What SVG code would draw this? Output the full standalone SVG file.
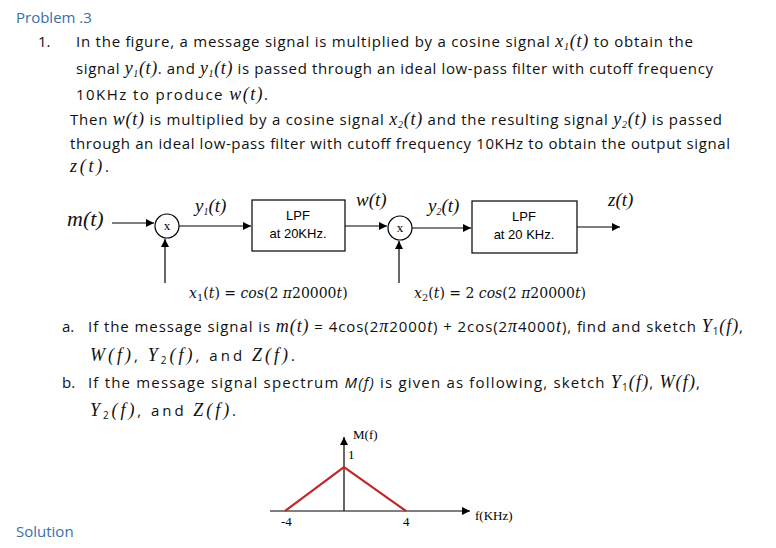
<svg xmlns="http://www.w3.org/2000/svg" width="776" height="548" viewBox="0 0 776 548">
<defs><marker id="ah" markerWidth="8" markerHeight="8" refX="8" refY="4" orient="auto" markerUnits="userSpaceOnUse"><path d="M0,0 L8,4 L0,8 Z" fill="#000"/></marker></defs>
<style>
.t{font-family:"Open Sans","Liberation Sans",sans-serif;font-size:15px;fill:#111}
.m{font-family:"Liberation Serif",serif;font-style:italic;fill:#111}
.sub{font-size:10px}
.big{font-size:18px}
.s{font-family:"Liberation Sans",sans-serif;font-size:13px;fill:#000}
.r{font-family:"Liberation Serif",serif;font-size:13px;fill:#000}
.ln{stroke:#000;stroke-width:1.2;fill:none}
.dl{font-family:"Liberation Serif",serif;font-style:italic;font-size:19px;fill:#111}
.eq{font-family:"DejaVu Serif","Liberation Serif",serif;font-size:14px;fill:#111}
</style>
<rect width="776" height="548" fill="#fff"/>
<text x="16" y="23" class="t" style="fill:#3a6ea5">Problem .3</text>
<text x="38" y="47" class="t">1.</text>
<text x="76" y="47" class="t" textLength="617" lengthAdjust="spacing">In the figure, a message signal is multiplied by a cosine signal <tspan class="m big">x</tspan><tspan class="m sub" dy="3">1</tspan><tspan class="m big" dy="-3">(t)</tspan> to obtain the</text>
<text x="76" y="74" class="t" textLength="637" lengthAdjust="spacing">signal <tspan class="m big">y</tspan><tspan class="m sub" dy="3">1</tspan><tspan class="m big" dy="-3">(t)</tspan>. and <tspan class="m big">y</tspan><tspan class="m sub" dy="3">1</tspan><tspan class="m big" dy="-3">(t)</tspan> is passed through an ideal low-pass filter with cutoff frequency</text>
<text x="76" y="100" class="t" textLength="192" lengthAdjust="spacing">10KHz to produce <tspan class="m big">w(t)</tspan>.</text>
<text x="70" y="125" class="t" textLength="652" lengthAdjust="spacing">Then <tspan class="m big">w(t)</tspan> is multiplied by a cosine signal <tspan class="m big">x</tspan><tspan class="m sub" dy="3">2</tspan><tspan class="m big" dy="-3">(t)</tspan> and the resulting signal <tspan class="m big">y</tspan><tspan class="m sub" dy="3">2</tspan><tspan class="m big" dy="-3">(t)</tspan> is passed</text>
<text x="70" y="149" class="t" textLength="660" lengthAdjust="spacing">through an ideal low-pass filter with cutoff frequency 10KHz to obtain the output signal</text>
<text x="70" y="172" class="t" textLength="39" lengthAdjust="spacing"><tspan class="m big">z(t)</tspan>.</text>

<g id="connectors">
<line x1="112" y1="223" x2="154" y2="223" class="ln" marker-end="url(#ah)"/>
<line x1="179" y1="226" x2="251" y2="226" class="ln" marker-end="url(#ah)"/>
<line x1="345" y1="226" x2="387" y2="226" class="ln" marker-end="url(#ah)"/>
<line x1="412" y1="228" x2="471" y2="228" class="ln" marker-end="url(#ah)"/>
<line x1="577" y1="227" x2="620" y2="227" class="ln" marker-end="url(#ah)"/>
<line x1="165" y1="283" x2="165" y2="239" class="ln" marker-end="url(#ah)"/>
<line x1="399" y1="283" x2="399" y2="241" class="ln" marker-end="url(#ah)"/>
</g>
<g id="mult1"><circle cx="167" cy="226" r="12" class="ln"/><text x="167" y="230" class="r" text-anchor="middle">x</text></g>
<g id="lpf1"><rect x="252" y="200" width="93" height="51" class="ln"/><text x="298" y="220" class="s" text-anchor="middle">LPF</text><text x="298" y="238" class="s" text-anchor="middle">at 20KHz.</text></g>
<g id="mult2"><circle cx="400" cy="228" r="12" class="ln"/><text x="400" y="232" class="r" text-anchor="middle">x</text></g>
<g id="lpf2"><rect x="472" y="201" width="105" height="52" class="ln"/><text x="524" y="221" class="s" text-anchor="middle">LPF</text><text x="524" y="239" class="s" text-anchor="middle">at 20 KHz.</text></g>
<text x="67" y="226" class="dl" style="font-size:22px">m(t)</text>
<text x="195" y="212" class="dl">y<tspan class="sub" dy="3">1</tspan><tspan dy="-3">(t)</tspan></text>
<text x="356" y="206" class="dl">w(t)</text>
<text x="428" y="212" class="dl">y<tspan class="sub" dy="3">2</tspan><tspan dy="-3">(t)</tspan></text>
<text x="608" y="206" class="dl">z(t)</text>
<text x="189" y="298" class="eq"><tspan font-style="italic">x</tspan><tspan class="sub" dy="3">1</tspan><tspan dy="-3">(</tspan><tspan font-style="italic">t</tspan>) = <tspan font-style="italic">cos</tspan>(2 <tspan font-style="italic">π</tspan>20000<tspan font-style="italic">t</tspan>)</text>
<text x="414" y="298" class="eq"><tspan font-style="italic">x</tspan><tspan class="sub" dy="3">2</tspan><tspan dy="-3">(</tspan><tspan font-style="italic">t</tspan>) = 2 <tspan font-style="italic">cos</tspan>(2 <tspan font-style="italic">π</tspan>20000<tspan font-style="italic">t</tspan>)</text>

<text x="62" y="332" class="t">a.</text>
<text x="88" y="332" class="t" textLength="655" lengthAdjust="spacing">If the message signal is <tspan class="m big">m(t)</tspan> = 4cos(2<tspan class="m big">π</tspan>2000<tspan class="m big">t</tspan>) + 2cos(2<tspan class="m big">π</tspan>4000<tspan class="m big">t</tspan>), find and sketch <tspan class="m big">Y</tspan><tspan class="sub" dy="3">1</tspan><tspan class="m big" dy="-3">(f)</tspan>,</text>
<text x="90" y="361" class="t" textLength="205" lengthAdjust="spacing"><tspan class="m big">W(f)</tspan>, <tspan class="m big">Y</tspan><tspan class="sub" dy="3">2</tspan><tspan class="m big" dy="-3">(f)</tspan>, and <tspan class="m big">Z(f)</tspan>.</text>
<text x="62" y="388" class="t">b.</text>
<text x="88" y="388" class="t" textLength="612" lengthAdjust="spacing">If the message signal spectrum <tspan font-style="italic">M(f)</tspan> is given as following, sketch <tspan class="m big">Y</tspan><tspan class="sub" dy="3">1</tspan><tspan class="m big" dy="-3">(f)</tspan>, <tspan class="m big">W(f)</tspan>,</text>
<text x="90" y="416" class="t" textLength="146" lengthAdjust="spacing"><tspan class="m big">Y</tspan><tspan class="sub" dy="3">2</tspan><tspan class="m big" dy="-3">(f)</tspan>, and <tspan class="m big">Z(f)</tspan>.</text>

<g id="spectrum">
<line x1="270" y1="511" x2="470" y2="511" class="ln" marker-end="url(#ah)"/>
<line x1="344" y1="511" x2="344" y2="437" class="ln" marker-end="url(#ah)"/>
<polyline points="285,511 344,467 406,511" fill="none" stroke="#c0282a" stroke-width="2.2"/>
<text x="353" y="439" class="r">M(f)</text>
<text x="348" y="459" class="r">1</text>
<text x="281" y="526" class="r">-4</text>
<text x="403" y="526" class="r">4</text>
<text x="475" y="520" class="r">f(KHz)</text>
</g>
<text x="16" y="537" class="t" style="fill:#3a6ea5">Solution</text>
</svg>
